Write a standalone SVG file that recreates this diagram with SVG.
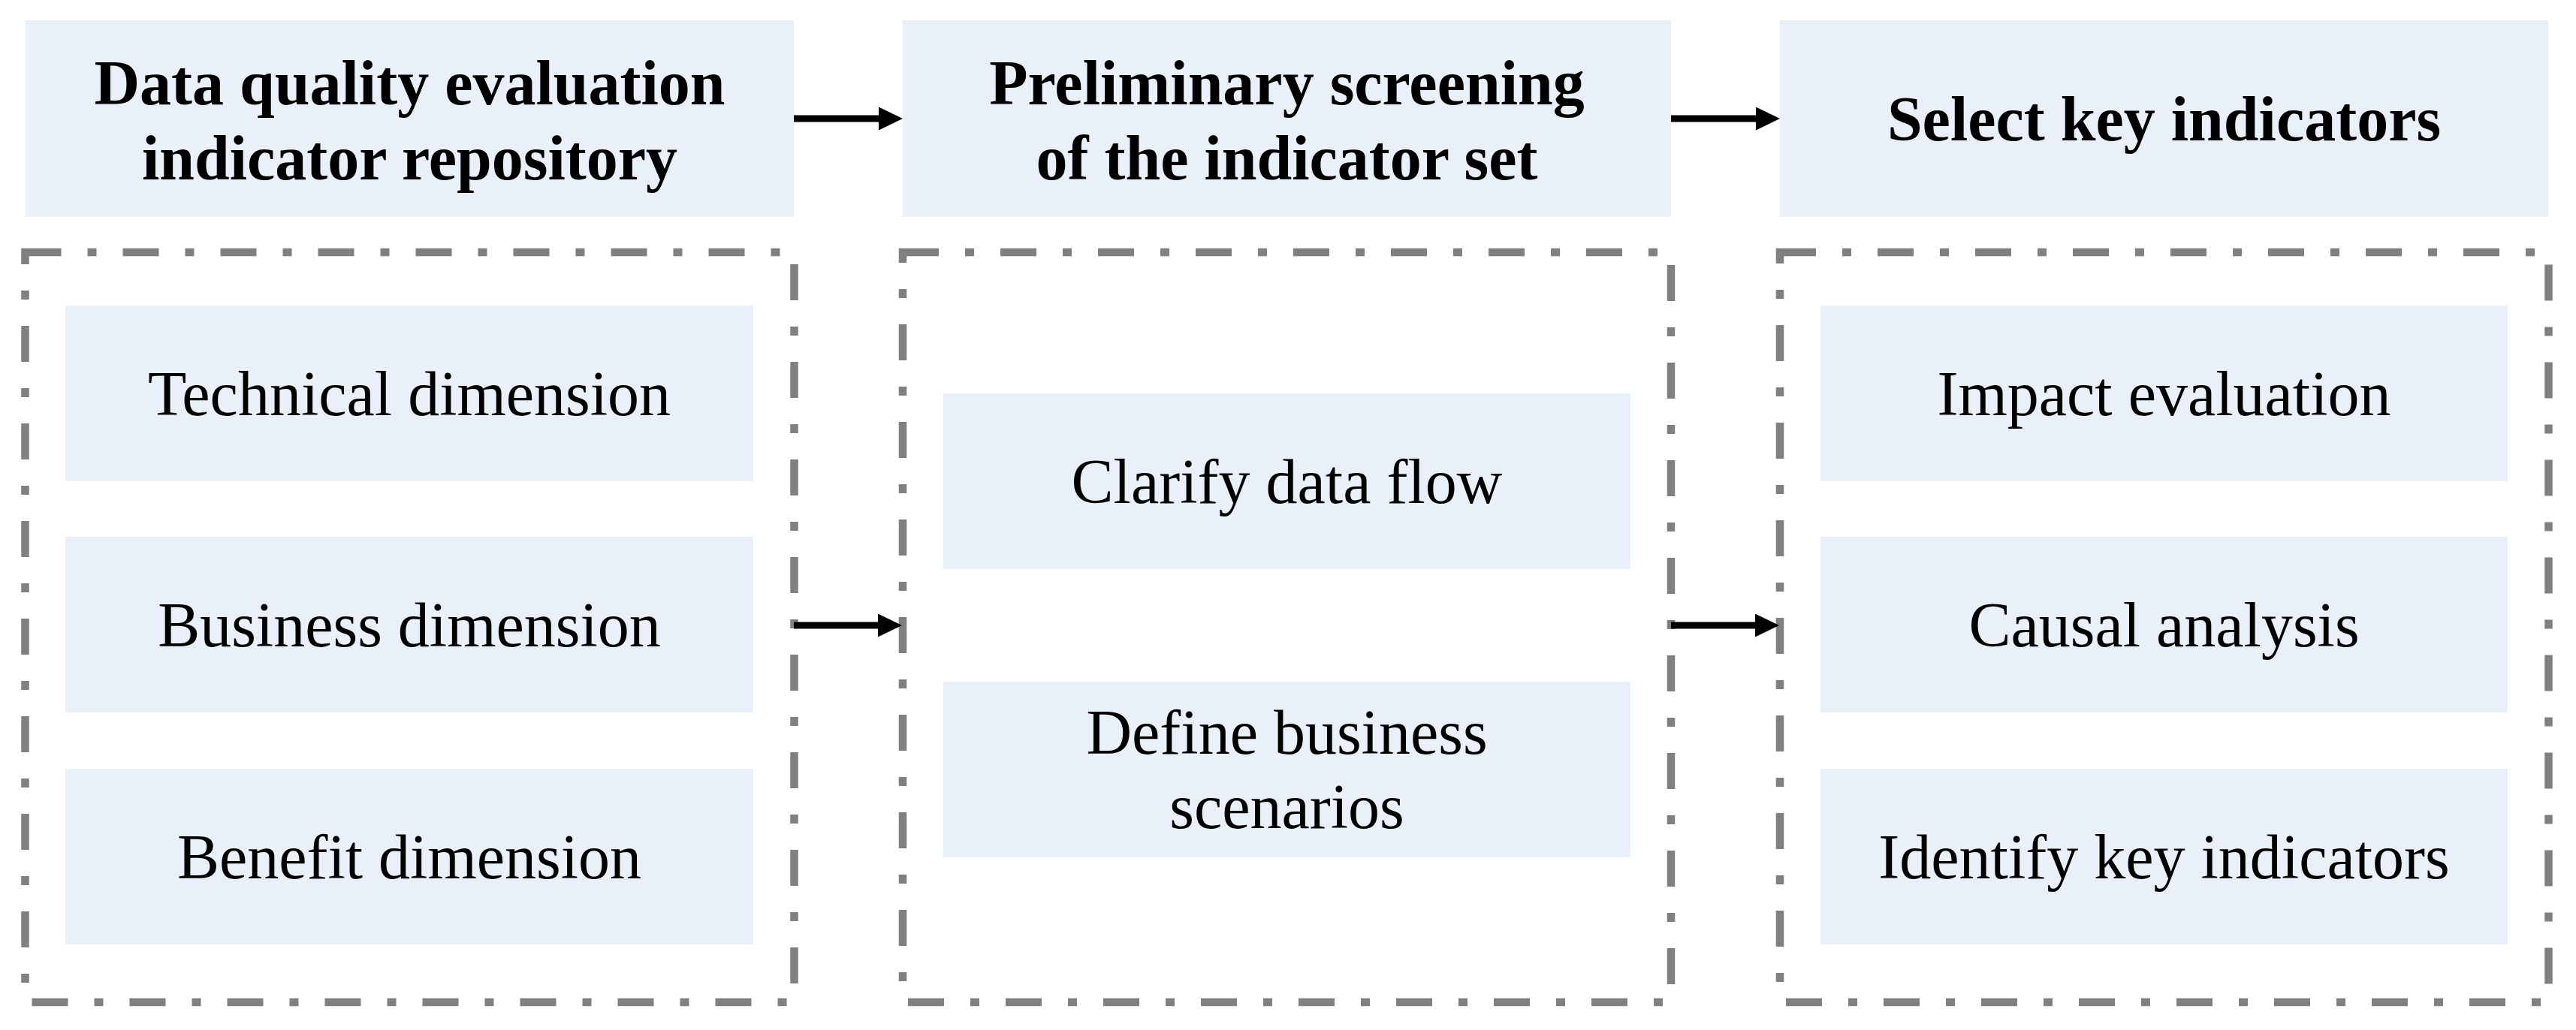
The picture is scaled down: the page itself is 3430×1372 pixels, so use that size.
<svg xmlns="http://www.w3.org/2000/svg" width="3430" height="1372" viewBox="0 0 3430 1372">
<defs>
<style>
.hdr{fill:#E9F0F9;}
.box{fill:#E9F0F9;}
.grp{fill:none;stroke:#808080;stroke-width:10.5;stroke-dasharray:48 35 12 35;}
.t{font-family:"Liberation Serif","Times New Roman",serif;font-size:84px;fill:#000;text-anchor:middle;}
.b{font-weight:bold;}
.arr{stroke:#000;stroke-width:9;fill:none;marker-end:url(#ah);}
</style>
<marker id="ah" markerUnits="userSpaceOnUse" markerWidth="33" markerHeight="32" refX="1" refY="15.5" orient="auto">
<path d="M0,0 L32,15.5 L0,31 z" fill="#000"/>
</marker>
</defs>
<rect width="3430" height="1372" fill="#fff"/>

<g id="col1-header">
<rect class="hdr" x="34" y="27" width="1023" height="262"/>
<text class="t b" x="545.5" y="139">Data quality evaluation</text>
<text class="t b" x="545.5" y="239">indicator repository</text>
</g>
<g id="col2-header">
<rect class="hdr" x="1202" y="27" width="1023" height="262"/>
<text class="t b" x="1713.5" y="139">Preliminary screening</text>
<text class="t b" x="1713.5" y="239">of the indicator set</text>
</g>
<g id="col3-header">
<rect class="hdr" x="2370" y="27" width="1023" height="262"/>
<text class="t b" x="2881.5" y="187">Select key indicators</text>
</g>

<g id="col1-group">
<rect class="grp" x="33.5" y="336" width="1024" height="999"/>
</g>
<g id="col2-group">
<rect class="grp" x="1202" y="336" width="1023" height="999"/>
</g>
<g id="col3-group">
<rect class="grp" x="2370" y="336" width="1023.5" height="999"/>
</g>

<g id="technical">
<rect class="box" x="87" y="407" width="916" height="234"/>
<text class="t" x="545" y="553">Technical dimension</text>
</g>
<g id="business">
<rect class="box" x="87" y="715" width="916" height="234"/>
<text class="t" x="545" y="861">Business dimension</text>
</g>
<g id="benefit">
<rect class="box" x="87" y="1024" width="916" height="234"/>
<text class="t" x="545" y="1170">Benefit dimension</text>
</g>

<g id="clarify">
<rect class="box" x="1256" y="524" width="915" height="234"/>
<text class="t" x="1713.5" y="670">Clarify data flow</text>
</g>
<g id="define">
<rect class="box" x="1256" y="908" width="915" height="234"/>
<text class="t" x="1713.5" y="1004">Define business</text>
<text class="t" x="1713.5" y="1103">scenarios</text>
</g>

<g id="impact">
<rect class="box" x="2424" y="407" width="915" height="234"/>
<text class="t" x="2881.5" y="553">Impact evaluation</text>
</g>
<g id="causal">
<rect class="box" x="2424" y="715" width="915" height="234"/>
<text class="t" x="2881.5" y="861">Causal analysis</text>
</g>
<g id="identify">
<rect class="box" x="2424" y="1024" width="915" height="234"/>
<text class="t" x="2881.5" y="1170">Identify key indicators</text>
</g>

<g id="connectors">
<line class="arr" x1="1057" y1="158" x2="1171" y2="158"/>
<line class="arr" x1="2225" y1="158" x2="2339" y2="158"/>
<line class="arr" x1="1057" y1="833" x2="1170" y2="833"/>
<line class="arr" x1="2225" y1="833" x2="2338" y2="833"/>
</g>
</svg>
